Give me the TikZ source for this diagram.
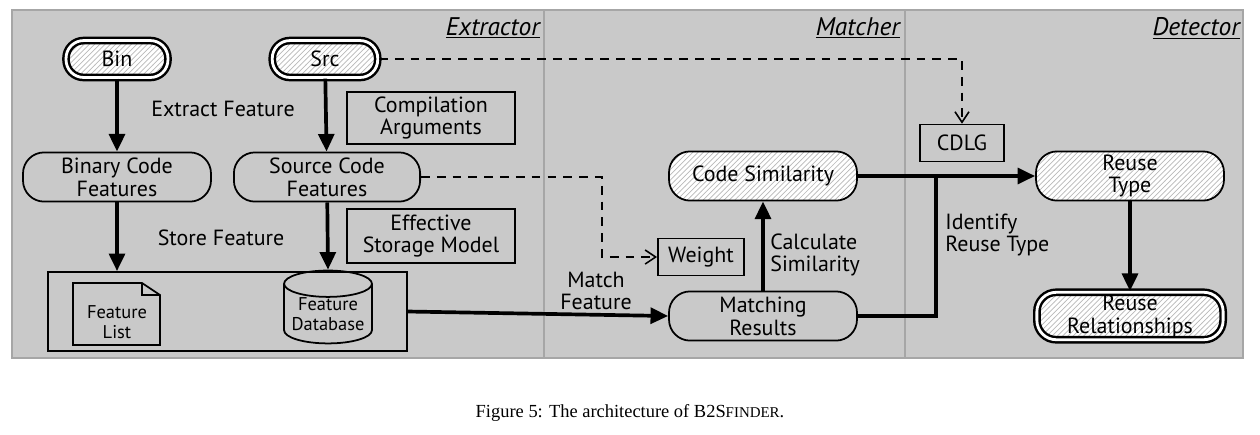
\documentclass[tikz,border=0pt]{standalone}
\usepackage{fontspec}
\setmainfont{PT Sans}
\newfontfamily\capfont{Liberation Serif}
\usetikzlibrary{arrows.meta,patterns,shapes.geometric,calc}
\begin{document}
\begin{tikzpicture}[x=0.02cm,y=-0.02cm,
  every node/.style={font=\fontsize{12.5}{13}\selectfont, align=center, inner sep=0pt},
  term/.style={draw, rounded corners=12pt, line width=1pt, minimum height=28pt},
  hatch/.style={preaction={fill=white}, pattern=north east lines, pattern color=gray!55},
  dbl/.style={double=white, double distance=1.6pt, line width=1.4pt},
  box/.style={draw, line width=1pt, fill=none},
  thk/.style={line width=2.1pt, -{Triangle[length=10pt,width=9pt]}},
  thkn/.style={line width=2.1pt},
  dsh/.style={line width=0.9pt, dash pattern=on 5pt off 4pt},
  sec/.style={font=\fontsize{14.5}{15}\selectfont\itshape, anchor=east}]
\useasboundingbox (0,0) rectangle (1260,434);
\fill[white] (0,0) rectangle (1260,434);
\draw[fill=gray!42, draw=gray!70, line width=1.4pt] (12,10) rectangle (1243,358);
\draw[gray!70, line width=1.1pt] (544,10) -- (544,358) (905,10) -- (905,358);
\node[sec] (sx) at (540,28) {\underline{Extractor}};
\node[sec] (sm) at (900,28) {\underline{Matcher}};
\node[sec] (sd) at (1240,28) {\underline{Detector}};

\node[term, hatch, dbl, minimum width=58pt, minimum height=21pt, rounded corners=10pt] (bin) at (117,59) {Bin};
\node[term, hatch, dbl, minimum width=60pt, minimum height=21pt, rounded corners=10pt] (src) at (325,59) {Src};
\node[term, minimum width=107pt] (bcf) at (117,177) {Binary Code\\Features};
\node[term, minimum width=106pt] (scf) at (327,177) {Source Code\\Features};
\node[box, minimum width=96pt, minimum height=30pt] (ca) at (431,118) {Compilation\\Arguments};
\node[box, minimum width=96pt, minimum height=31pt] (esm) at (431,236) {Effective\\Storage Model};
\node (ef) at (223,109) {Extract Feature};
\node (sf) at (221,238) {Store Feature};
\node[box, minimum width=204pt, minimum height=45pt] (big) at (227.5,311.5) {};
\draw[line width=1pt] (73,283) -- (142,283) -- (160,295) -- (160,345) -- (73,345) -- cycle;
\draw[line width=1pt] (142,283) -- (142,295) -- (160,295);
\node[font=\fontsize{10.5}{11}\selectfont] (fln) at (117,322) {Feature\\List};
\node[draw, line width=1pt, cylinder, shape border rotate=90, aspect=0.3, minimum width=50pt, minimum height=35pt, font=\fontsize{10.5}{11}\selectfont] (db) at (328,314) {\raisebox{-6pt}{\parbox{50pt}{\centering Feature\\Database}}};

\node[term, minimum width=107pt] (mr) at (763,316) {Matching\\Results};
\node[term, hatch, minimum width=107pt] (cs) at (763,176) {Code Similarity};
\node[box, minimum width=49pt, minimum height=21pt] (w) at (701,257) {Weight};
\node[box, minimum width=48pt, minimum height=21pt] (cdlg) at (962,143) {CDLG};
\node[term, hatch, minimum width=107pt] (rt) at (1130,176) {Reuse\\Type};
\node[term, hatch, dbl, minimum width=106pt, minimum height=27pt, rounded corners=11pt] (rr) at (1130,316) {Reuse\\Relationships};
\node[anchor=west, align=left] (calc) at (770,255) {Calculate\\Similarity};
\node[anchor=west, align=left] (ir) at (945,235) {Identify\\Reuse Type};
\node (mf) at (596,291) {Match\\Feature};

\draw[thk] (bin) -- (bcf);
\draw[thk] (src) -- (scf);
\draw[thk] (bcf) -- (bcf |- big.north);
\draw[thk] (scf) -- (db.north);
\draw[thk] (big.east) -- (mr.west);
\draw[thk] (mr) -- (cs);
\draw[thk] (cs.east) -- (rt.west);
\coordinate (j) at (936,176);
\draw[thkn] (mr.east) -| (j);
\draw[thk] (rt) -- (rr);
\coordinate (d1) at (602,177);
\draw[dsh, -{Straight Barb[length=6pt,width=8pt]}] (scf.east) -- (d1) |- (w.west);
\coordinate (d2) at (962,59);
\draw[dsh, -{Straight Barb[length=6pt,width=8pt]}] (src.east) -- (d2) -- (cdlg.north);
\node[font=\capfont\fontsize{10.5}{11}\selectfont] (cap) at (630,413) {Figure 5: The architecture of B2S{\fontsize{8.5}{9}\selectfont FINDER}.};
\end{tikzpicture}
\end{document}
